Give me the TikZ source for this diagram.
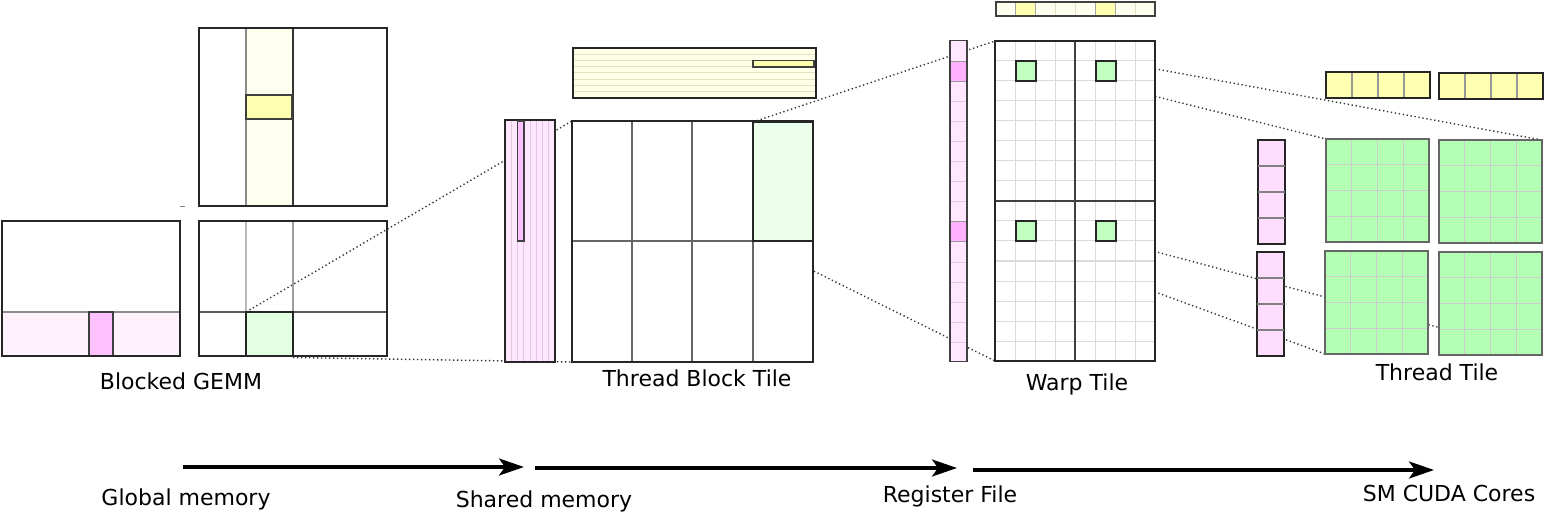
\documentclass[tikz,border=0pt]{standalone}
\usepackage{fontspec}
\setmainfont{DejaVu Sans}
\usetikzlibrary{arrows.meta}
\pgfdeclarelayer{bg}
\pgfsetlayers{bg,main}
\definecolor{ylite}{HTML}{FFFFF0}
\definecolor{ytile}{HTML}{FFFFE8}
\definecolor{ymid}{HTML}{FFFFB0}
\definecolor{plite}{HTML}{FFF2FC}
\definecolor{pcol}{HTML}{FFE8FF}
\definecolor{pmid}{HTML}{FFC0FF}
\definecolor{pdark}{HTML}{FFB0FF}
\definecolor{pthr}{HTML}{FFDDFF}
\definecolor{glite}{HTML}{E2FFE2}
\definecolor{gwarp}{HTML}{C0FFC0}
\definecolor{gthr}{HTML}{B3FFB3}
\definecolor{ylines}{HTML}{E3E3C3}
\definecolor{plines}{HTML}{E3C6E3}
\begin{document}
\begin{tikzpicture}[x=1pt,y=-1pt,
  rb/.style={anchor=north west, inner sep=0pt, outer sep=0pt},
  box/.style={rb, draw=black!85, line width=2pt},
  boxthin/.style={rb, draw=black!75, line width=1.3pt},
  gl/.style={draw=black!45, line width=1.1pt},
  fl/.style={draw=black!14, line width=1pt},
  conn/.style={line width=1.4pt, black!80, dash pattern=on 1.3pt off 2.7pt},
  lbl/.style={font=\fontsize{22}{26}\selectfont, inner sep=0pt, anchor=base},
  flow/.style={line width=3.2pt, -{Stealth[length=25pt,width=17pt,inset=6pt]}},
]
\useasboundingbox (0,0) rectangle (1545,513);

% ---------------- Blocked GEMM ----------------
% B matrix
\fill[ylite] (246,28) rectangle (293,206);
\draw[gl] (246,28) -- (246,206);
\draw[black!80, line width=1.3pt] (293,28) -- (293,206);
\node[boxthin, fill=ymid, minimum width=46pt, minimum height=24pt] (gbk) at (246,95) {};
\node[box, minimum width=188pt, minimum height=178pt] (gB) at (199,28) {};
\draw[black!50, line width=1pt] (180,207) -- (185,207);
% A matrix
\fill[plite] (2,312) rectangle (180,356);
\draw[gl] (2,312) -- (180,312);
\node[boxthin, fill=pmid, minimum width=24pt, minimum height=44pt] (gak) at (89,312) {};
\node[box, minimum width=178pt, minimum height=135pt] (gA) at (2,221) {};
% C matrix
\draw[black!28, line width=1.2pt] (246,221) -- (246,312);
\draw[black!38, line width=1.2pt] (293,221) -- (293,312);
\draw[black!65, line width=1.3pt] (199,312) -- (387,312);
\node[box, fill=glite, minimum width=47pt, minimum height=44pt] (cg) at (246,312) {};
\node[box, minimum width=188pt, minimum height=135pt] (gC) at (199,221) {};

% ---------------- Thread Block Tile ----------------
\node[box, fill=ytile, minimum width=243pt, minimum height=50pt] (tbB) at (573,48) {};
\foreach \k in {1,...,7} \draw[ylines, line width=1pt] (574,48+6.25*\k) -- (815,48+6.25*\k);
\node[boxthin, fill=ymid, minimum width=61pt, minimum height=6.3pt] (tbBk) at (753,60.7) {};

\node[box, fill=pcol, minimum width=50pt, minimum height=242pt] (tbA) at (505,120) {};
\foreach \k in {1,...,7} \draw[plines, line width=1pt] (505+6.25*\k,121) -- (505+6.25*\k,361);
\node[boxthin, fill=pmid, minimum width=6.5pt, minimum height=120pt] (tbAk) at (517.5,121) {};

\node[box, fill=white, minimum width=241pt, minimum height=241pt] (tbC) at (572,121) {};
\foreach \x in {632,692,753} \draw[black!60, line width=1.3pt] (\x,121) -- (\x,362);
\draw[black!60, line width=1.3pt] (572,241) -- (813,241);
\node[box, fill=glite!70!white, minimum width=60pt, minimum height=119pt] (tbg) at (753,122) {};
\draw[black!85, line width=2pt] (572,121) rectangle (813,362);

% ---------------- Warp Tile ----------------
\node[boxthin, fill=ylite, minimum width=159pt, minimum height=14pt] (wB) at (996,2) {};
\foreach \k in {1,5} \fill[ymid] (996+19.875*\k,2) rectangle (996+19.875*\k+19.875,16);
\foreach \k in {1,...,7} \draw[ylines, line width=1pt] (996+19.875*\k,2) -- (996+19.875*\k,16);
\foreach \k in {1,2,5,6} \draw[black!35, line width=1pt] (996+19.875*\k,2) -- (996+19.875*\k,16);
\draw[black!75, line width=1.3pt] (996,2) rectangle (1155,16);

\node[boxthin, fill=pcol, minimum width=17pt, minimum height=321pt] (wA) at (950,40.5) {};
\foreach \k in {1,9} \fill[pdark] (950,42+20*\k) rectangle (967,62+20*\k);
\foreach \k in {1,...,15} \draw[plines, line width=1pt] (950,42+20*\k) -- (967,42+20*\k);
\foreach \k in {1,2,9,10} \draw[black!40, line width=1pt] (950,42+20*\k) -- (967,42+20*\k);
\draw[black!75, line width=1.3pt] (950,40.5) rectangle (967,361.5);

\node[box, fill=white, minimum width=160pt, minimum height=320pt] (wC) at (995,41) {};
\foreach \k in {1,...,7} \draw[fl] (995+20*\k,42) -- (995+20*\k,360);
\foreach \k in {1,...,15} \draw[fl] (996,41+20*\k) -- (1154,41+20*\k);
\draw[black!75, line width=1.3pt] (1075,41) -- (1075,361);
\draw[black!75, line width=1.3pt] (995,201) -- (1155,201);
\draw[black!85, line width=2pt] (995,41) rectangle (1155,361);
\node[box, fill=gwarp, minimum width=20pt, minimum height=20pt] (wg1) at (1015.5,61.5) {};
\node[box, fill=gwarp, minimum width=20pt, minimum height=20pt] (wg2) at (1095.5,61.5) {};
\node[box, fill=gwarp, minimum width=20pt, minimum height=20pt] (wg3) at (1015.5,221) {};
\node[box, fill=gwarp, minimum width=20pt, minimum height=20pt] (wg4) at (1095.5,221) {};

% ---------------- Thread Tile ----------------
\node[box, fill=ymid, minimum width=104pt, minimum height=26pt] (tyA) at (1326,72) {};
\foreach \k in {1,2,3} \draw[black!40, line width=1.3pt] (1326+26*\k,73) -- (1326+26*\k,97);
\node[box, fill=ymid, minimum width=104pt, minimum height=26pt] (tyB) at (1439,73) {};
\foreach \k in {1,2,3} \draw[black!40, line width=1.3pt] (1439+26*\k,74) -- (1439+26*\k,98);

\node[box, fill=pthr, minimum width=27pt, minimum height=104pt] (tp1) at (1258,140) {};
\foreach \k in {1,2,3} \draw[black!50, line width=1.3pt] (1258,140+26*\k) -- (1285,140+26*\k);
\node[box, fill=pthr, minimum width=27pt, minimum height=104pt] (tp2) at (1257,252) {};
\foreach \k in {1,2,3} \draw[black!50, line width=1.3pt] (1257,252+26*\k) -- (1284,252+26*\k);

\foreach \n/\x/\y in {tgA/1326/139, tgB/1439/140, tgC/1325/251, tgD/1439/252}{
  \node[rb, fill=gthr, minimum width=103pt, minimum height=103pt] (\n) at (\x,\y) {};
  \foreach \k in {1,2,3}{
    \draw[black!20, line width=1.2pt] (\x+25.75*\k,\y) -- (\x+25.75*\k,\y+103);
    \draw[black!20, line width=1.2pt] (\x,\y+25.75*\k) -- (\x+103,\y+25.75*\k);
  }
  \draw[black!60, line width=1.3pt] (\x,\y) rectangle (\x+103,\y+103);
}

% ---------------- connectors (behind) ----------------
\begin{pgfonlayer}{bg}
\draw[conn] (cg.north west) -- (tbC.north west);
\draw[conn] ([yshift=-1.5pt]cg.south east) -- (tbC.south west);
\draw[conn] (tbg.north west) -- (wC.north west);
\draw[conn] (tbg.south west) -- (wC.south west);
\draw[conn] (wg1.north west) -- (tgA.north west);
\draw[conn] (wg2.north east) -- (tgB.north east);
\draw[conn] (wg3.south west) -- (tgC.south west);
\draw[conn] (wg4.south east) -- (tgD.south east);
\end{pgfonlayer}

% ---------------- labels ----------------
\node[lbl] (l1) at (181,389) {Blocked GEMM};
\node[lbl] (l2) at (697,386) {Thread Block Tile};
\node[lbl] (l3) at (1077,390) {Warp Tile};
\node[lbl] (l4) at (1437,380) {Thread Tile};
\node[lbl] (m1) at (186,505) {Global memory};
\node[lbl] (m2) at (544,507) {Shared memory};
\node[lbl] (m3) at (950,502) {Register File};
\node[lbl] (m4) at (1449,501) {SM CUDA Cores};

% ---------------- flow arrows ----------------
\coordinate (a1s) at (183,467);
\coordinate (a1e) at (524,467);
\coordinate (a2s) at (535,468);
\coordinate (a2e) at (957,468);
\coordinate (a3s) at (973,470);
\coordinate (a3e) at (1434,470);
\draw[flow] (a1s) -- (a1e);
\draw[flow] (a2s) -- (a2e);
\draw[flow] (a3s) -- (a3e);
\end{tikzpicture}
\end{document}
